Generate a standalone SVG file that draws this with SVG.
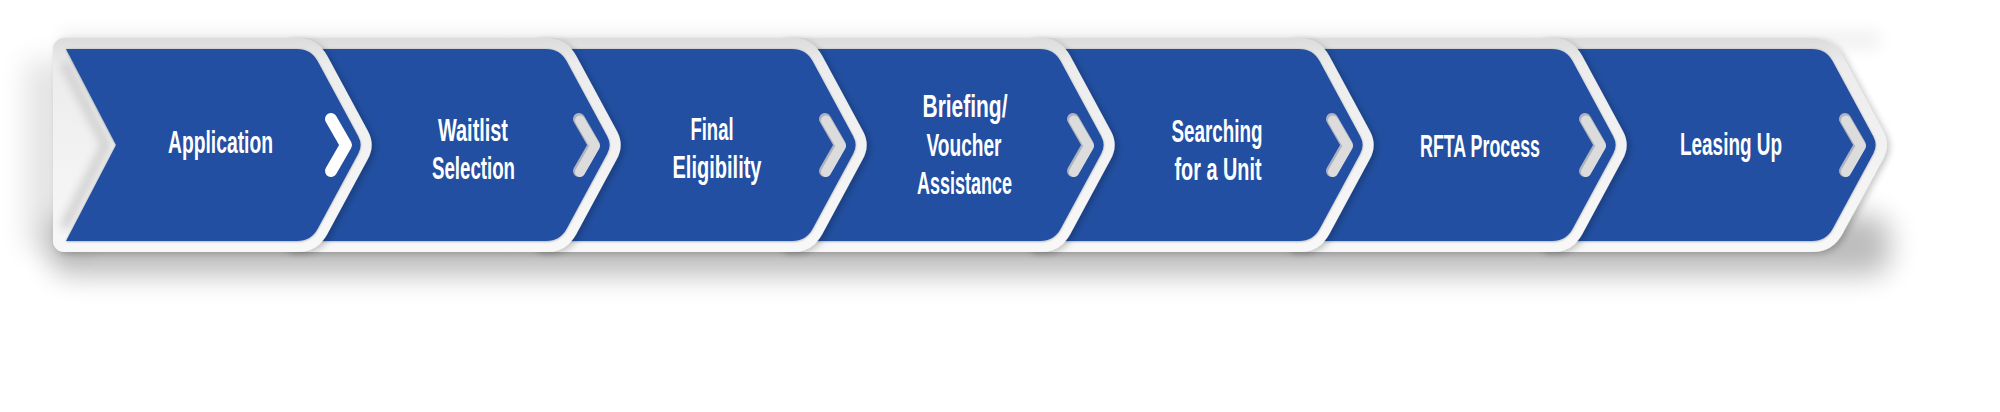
<svg xmlns="http://www.w3.org/2000/svg" width="2000" height="412" viewBox="0 0 2000 412">
<style>
.outer{stroke:url(#rim);stroke-width:22;stroke-linejoin:round;fill:url(#rim)}
.blue{fill:#2350a1;filter:url(#rimShade)}
.lbl{fill:#ffffff;font-family:"Liberation Sans Narrow","Liberation Sans",Arial,sans-serif;font-weight:bold;font-size:31px;text-anchor:middle}
.mk{fill:none;stroke-width:12;stroke-linecap:round;stroke-linejoin:round}
.mkW{stroke:#ffffff}
.mkD{stroke:#aeb3bf}
.mkL{stroke:#dcdcdc;stroke-width:10}
</style>
<defs>
<linearGradient id="rim" gradientUnits="userSpaceOnUse" x1="0" y1="38" x2="0" y2="253">
<stop offset="0" stop-color="#dcdcdc"/>
<stop offset="0.05" stop-color="#e2e2e2"/>
<stop offset="0.12" stop-color="#ececec"/>
<stop offset="0.6" stop-color="#f3f3f3"/>
<stop offset="1" stop-color="#f8f8f8"/>
</linearGradient>
<filter id="stripShadow" filterUnits="userSpaceOnUse" x="0" y="0" width="2000" height="412">
<feGaussianBlur stdDeviation="14"/>
</filter>
<filter id="topShadow" filterUnits="userSpaceOnUse" x="0" y="0" width="2000" height="412">
<feGaussianBlur stdDeviation="8"/>
</filter>
<filter id="shapeShadow" x="-10%" y="-20%" width="120%" height="140%">
<feDropShadow dx="3" dy="2" stdDeviation="3" flood-color="#000" flood-opacity="0.22"/>
</filter>
<filter id="rimShade" x="-5%" y="-5%" width="110%" height="110%">
<feDropShadow dx="0" dy="0.5" stdDeviation="1.2" flood-color="#000" flood-opacity="0.35"/>
</filter>
<filter id="soft" x="-50%" y="-50%" width="200%" height="200%">
<feGaussianBlur stdDeviation="5"/>
</filter>
</defs>
<rect x="0" y="0" width="2000" height="412" fill="#ffffff"/>
<!-- strip shadow -->
<rect x="60" y="30" width="1820" height="20" fill="#000" opacity="0.05" filter="url(#topShadow)"/>
<rect x="50" y="215" width="1840" height="60" rx="20" fill="#000" opacity="0.26" filter="url(#stripShadow)"/>
<rect x="25" y="60" width="60" height="190" fill="#000" opacity="0.10" filter="url(#stripShadow)"/>

<g id="connectors"/>

<g id="node-leasing-up">
<path class="outer" filter="url(#shapeShadow)" d="M 1548,49 H 1812 Q 1826,49 1832.7,61.3 L 1873.2,136.2 Q 1878,145 1873.2,153.8 L 1832.7,228.7 Q 1826,241 1812,241 H 1548 Z"/>
<path class="blue" d="M 1548,49 H 1812 Q 1826,49 1832.7,61.3 L 1873.2,136.2 Q 1878,145 1873.2,153.8 L 1832.7,228.7 Q 1826,241 1812,241 H 1548 Z"/>
<polyline class="mk mkD" points="1845,119 1860,145 1845,171"/>
<polyline class="mk mkL" points="1846,120.5 1861,146 1846,172"/>
<text class="lbl" x="1731" y="155" textLength="102" lengthAdjust="spacingAndGlyphs">Leasing Up</text>
</g>

<g id="node-rfta-process">
<path class="outer" filter="url(#shapeShadow)" d="M 1295,49 H 1552 Q 1566,49 1572.7,61.3 L 1613.2,136.2 Q 1618,145 1613.2,153.8 L 1572.7,228.7 Q 1566,241 1552,241 H 1295 Z"/>
<path class="blue" d="M 1295,49 H 1552 Q 1566,49 1572.7,61.3 L 1613.2,136.2 Q 1618,145 1613.2,153.8 L 1572.7,228.7 Q 1566,241 1552,241 H 1295 Z"/>
<polyline class="mk mkD" points="1585,119 1600,145 1585,171"/>
<polyline class="mk mkL" points="1586,120.5 1601,146 1586,172"/>
<text class="lbl" x="1480" y="157" textLength="120" lengthAdjust="spacingAndGlyphs">RFTA Process</text>
</g>

<g id="node-searching">
<path class="outer" filter="url(#shapeShadow)" d="M 1036,49 H 1299 Q 1313,49 1319.7,61.3 L 1360.2,136.2 Q 1365,145 1360.2,153.8 L 1319.7,228.7 Q 1313,241 1299,241 H 1036 Z"/>
<path class="blue" d="M 1036,49 H 1299 Q 1313,49 1319.7,61.3 L 1360.2,136.2 Q 1365,145 1360.2,153.8 L 1319.7,228.7 Q 1313,241 1299,241 H 1036 Z"/>
<polyline class="mk mkD" points="1332,119 1347,145 1332,171"/>
<polyline class="mk mkL" points="1333,120.5 1348,146 1333,172"/>
<text class="lbl" x="1217" y="142" textLength="91" lengthAdjust="spacingAndGlyphs">Searching</text>
<text class="lbl" x="1218" y="180" textLength="87" lengthAdjust="spacingAndGlyphs">for a Unit</text>
</g>

<g id="node-briefing">
<path class="outer" filter="url(#shapeShadow)" d="M 788,49 H 1040 Q 1054,49 1060.7,61.3 L 1101.2,136.2 Q 1106,145 1101.2,153.8 L 1060.7,228.7 Q 1054,241 1040,241 H 788 Z"/>
<path class="blue" d="M 788,49 H 1040 Q 1054,49 1060.7,61.3 L 1101.2,136.2 Q 1106,145 1101.2,153.8 L 1060.7,228.7 Q 1054,241 1040,241 H 788 Z"/>
<polyline class="mk mkD" points="1073,119 1088,145 1073,171"/>
<polyline class="mk mkL" points="1074,120.5 1089,146 1074,172"/>
<text class="lbl" x="965" y="117" textLength="85" lengthAdjust="spacingAndGlyphs">Briefing/</text>
<text class="lbl" x="964" y="156" textLength="75" lengthAdjust="spacingAndGlyphs">Voucher</text>
<text class="lbl" x="964.5" y="194" textLength="95" lengthAdjust="spacingAndGlyphs">Assistance</text>
</g>

<g id="node-final-eligibility">
<path class="outer" filter="url(#shapeShadow)" d="M 542,49 H 792 Q 806,49 812.7,61.3 L 853.2,136.2 Q 858,145 853.2,153.8 L 812.7,228.7 Q 806,241 792,241 H 542 Z"/>
<path class="blue" d="M 542,49 H 792 Q 806,49 812.7,61.3 L 853.2,136.2 Q 858,145 853.2,153.8 L 812.7,228.7 Q 806,241 792,241 H 542 Z"/>
<polyline class="mk mkD" points="825,119 840,145 825,171"/>
<polyline class="mk mkL" points="826,120.5 841,146 826,172"/>
<text class="lbl" x="712" y="140" textLength="43" lengthAdjust="spacingAndGlyphs">Final</text>
<text class="lbl" x="717" y="178" textLength="89" lengthAdjust="spacingAndGlyphs">Eligibility</text>
</g>

<g id="node-waitlist">
<path class="outer" filter="url(#shapeShadow)" d="M 293,49 H 546 Q 560,49 566.7,61.3 L 607.2,136.2 Q 612,145 607.2,153.8 L 566.7,228.7 Q 560,241 546,241 H 293 Z"/>
<path class="blue" d="M 293,49 H 546 Q 560,49 566.7,61.3 L 607.2,136.2 Q 612,145 607.2,153.8 L 566.7,228.7 Q 560,241 546,241 H 293 Z"/>
<polyline class="mk mkD" points="579,119 594,145 579,171"/>
<polyline class="mk mkL" points="580,120.5 595,146 580,172"/>
<text class="lbl" x="473" y="141" textLength="70" lengthAdjust="spacingAndGlyphs">Waitlist</text>
<text class="lbl" x="473.5" y="179" textLength="83" lengthAdjust="spacingAndGlyphs">Selection</text>
</g>

<g id="node-application">
<path class="outer" filter="url(#shapeShadow)" d="M 64,49 H 297 Q 311,49 317.7,61.3 L 358.2,136.2 Q 363,145 358.2,153.8 L 317.7,228.7 Q 311,241 297,241 H 64 Z"/>
<path d="M 64,62 L 106,145 L 64,228" fill="none" stroke="#cdcdcd" stroke-width="9" filter="url(#soft)"/>
<path class="blue" d="M 66,49 H 297 Q 311,49 317.7,61.3 L 358.2,136.2 Q 363,145 358.2,153.8 L 317.7,228.7 Q 311,241 297,241 H 66 L 116,145 Z"/>
<polyline class="mk mkW" points="331,119 346,145 331,171"/>
<text class="lbl" x="220.5" y="153" textLength="105" lengthAdjust="spacingAndGlyphs">Application</text>
</g>
</svg>
